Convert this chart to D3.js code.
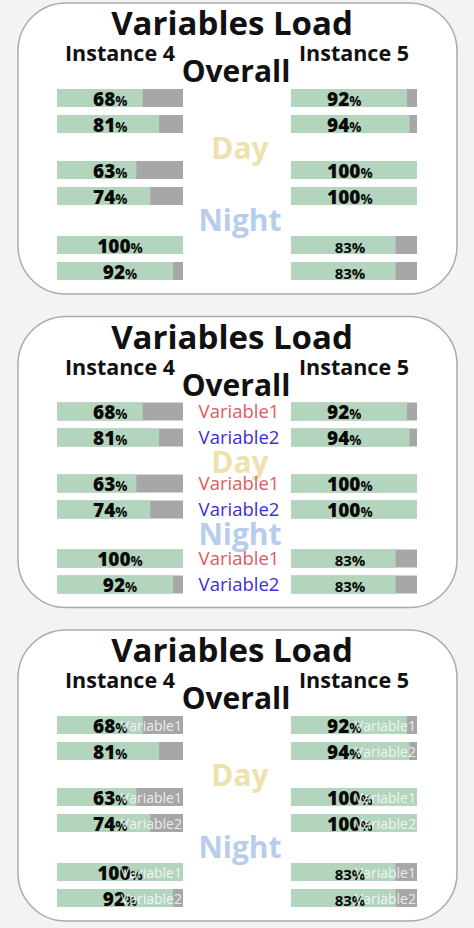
<!DOCTYPE html>
<html>
<head>
<meta charset="utf-8">
<script src="https://cdn.jsdelivr.net/npm/d3@7/dist/d3.min.js"></script>
<style>
  html, body { margin: 0; padding: 0; background: #f3f3f3; }
  svg { display: block; font-family: "Open Sans", "Noto Sans", sans-serif; }
</style>
</head>
<body>
<svg id="chart" width="474" height="928"></svg>
<script>
// ---------- data ----------
const title = "Variables Load";
const instances = ["Instance 4", "Instance 5"];
const groups = ["Overall", "Day", "Night"];
const variables = ["Variable1", "Variable2"];
const instance4Values = [68, 81, 63, 74, 100, 92];   // Overall V1, V2, Day V1, V2, Night V1, V2
const instance5Values = [92, 94, 100, 100, 83, 83];
const panelModes = ["plain", "centerLabels", "inlineLabels"];
const inlineLabels4 = ["Variable1", "", "Variable1", "Variable2", "Variable1", "Variable2"];
const inlineLabels5 = ["Variable1", "Variable2", "Variable1", "Variable2", "Variable1", "Variable2"];

// ---------- layout ----------
const svg = d3.select("#chart");
const panelX = 18, panelW = 439, panelH = 291, panelR = 48;
const panelY = d3.scaleLinear().domain([0, 2]).range([3, 630]);
const barW = 126, barH = 18;
const colX = d3.scaleOrdinal().domain(instances).range([57, 291]);
const x = d3.scaleLinear().domain([0, 100]).range([0, barW]);
const groupY = d3.scaleOrdinal().domain(groups).range([86, 158, 233]);
const headingY = d3.scaleOrdinal().domain(groups).range([79, 156, 228]);
const headingColor = d3.scaleOrdinal().domain(groups).range(["#111111", "#efe1ad", "#b7cdeb"]);
const rowY = d3.scalePoint().domain(variables).range([0, 26]);
const varColor = d3.scaleOrdinal().domain(variables).range(["#de5a5e", "#3a2fd8"]);

const rows = groups.flatMap(g => variables.map(v => ({ group: g, variable: v })));
const series = [
  { inst: instances[0], values: instance4Values, inline: inlineLabels4 },
  { inst: instances[1], values: instance5Values, inline: inlineLabels5 }
];

panelModes.forEach((mode, pi) => {
  const p = svg.append("g").attr("transform", `translate(0,${panelY(pi)})`);
  p.append("rect")
    .attr("x", panelX).attr("y", 0).attr("width", panelW).attr("height", panelH)
    .attr("rx", panelR).attr("ry", panelR)
    .attr("fill", "#ffffff").attr("stroke", "#ababab").attr("stroke-width", 1.5);

  p.append("text").attr("x", 232).attr("y", 32).attr("text-anchor", "middle")
    .attr("font-size", 33).attr("font-weight", 700).attr("fill", "#111")
    .text(title);

  instances.forEach(inst => {
    p.append("text").attr("x", colX(inst) + barW / 2).attr("y", 58)
      .attr("text-anchor", "middle").attr("font-size", 21.5).attr("font-weight", 700)
      .attr("fill", "#111").text(inst);
  });

  groups.forEach(g => {
    p.append("text").attr("x", g === "Overall" ? 236 : 240).attr("y", headingY(g)).attr("text-anchor", "middle")
      .attr("font-size", 30).attr("font-weight", 700).attr("fill", headingColor(g))
      .text(g);
  });

  series.forEach((s, si) => {
    rows.forEach((r, ri) => {
      const v = s.values[ri];
      const bx = colX(s.inst);
      const by = groupY(r.group) + rowY(r.variable);
      const gRow = p.append("g");
      gRow.append("rect").attr("x", bx).attr("y", by).attr("width", barW).attr("height", barH)
        .attr("fill", "#a8a7a8");
      gRow.append("rect").attr("x", bx).attr("y", by).attr("width", x(v)).attr("height", barH)
        .attr("fill", "#b4d5bd");

      // percentage label
      const night = r.group === "Night";
      const t = gRow.append("text").attr("y", by + 16.5).attr("font-weight", 800).attr("fill", "#0a0a0a");
      if (night) {
        t.attr("x", bx + barW / 2 - (si === 1 ? 4 : 0)).attr("text-anchor", "middle");
      } else {
        t.attr("x", bx + 36).attr("text-anchor", "start");
      }
      if (night && si === 1) {
        t.attr("font-size", 15).attr("font-weight", 700).text(v + "%");
      } else {
        t.append("tspan").attr("font-size", 19).text(v);
        t.append("tspan").attr("font-size", 13.5).attr("font-weight", 700).text("%");
      }

      if (mode === "inlineLabels" && s.inline[ri]) {
        gRow.append("text").attr("x", bx + barW - 1).attr("y", by + 14.5)
          .attr("text-anchor", "end").attr("font-size", 14).attr("fill", "#ffffff")
          .attr("fill-opacity", 0.8).text(s.inline[ri]);
      }
    });
  });

  if (mode === "centerLabels") {
    rows.forEach(r => {
      p.append("text").attr("x", 239).attr("y", groupY(r.group) + rowY(r.variable) + 15)
        .attr("text-anchor", "middle").attr("font-size", 18.5).attr("fill", varColor(r.variable))
        .text(r.variable);
    });
  }
});
</script>
</body>
</html>
